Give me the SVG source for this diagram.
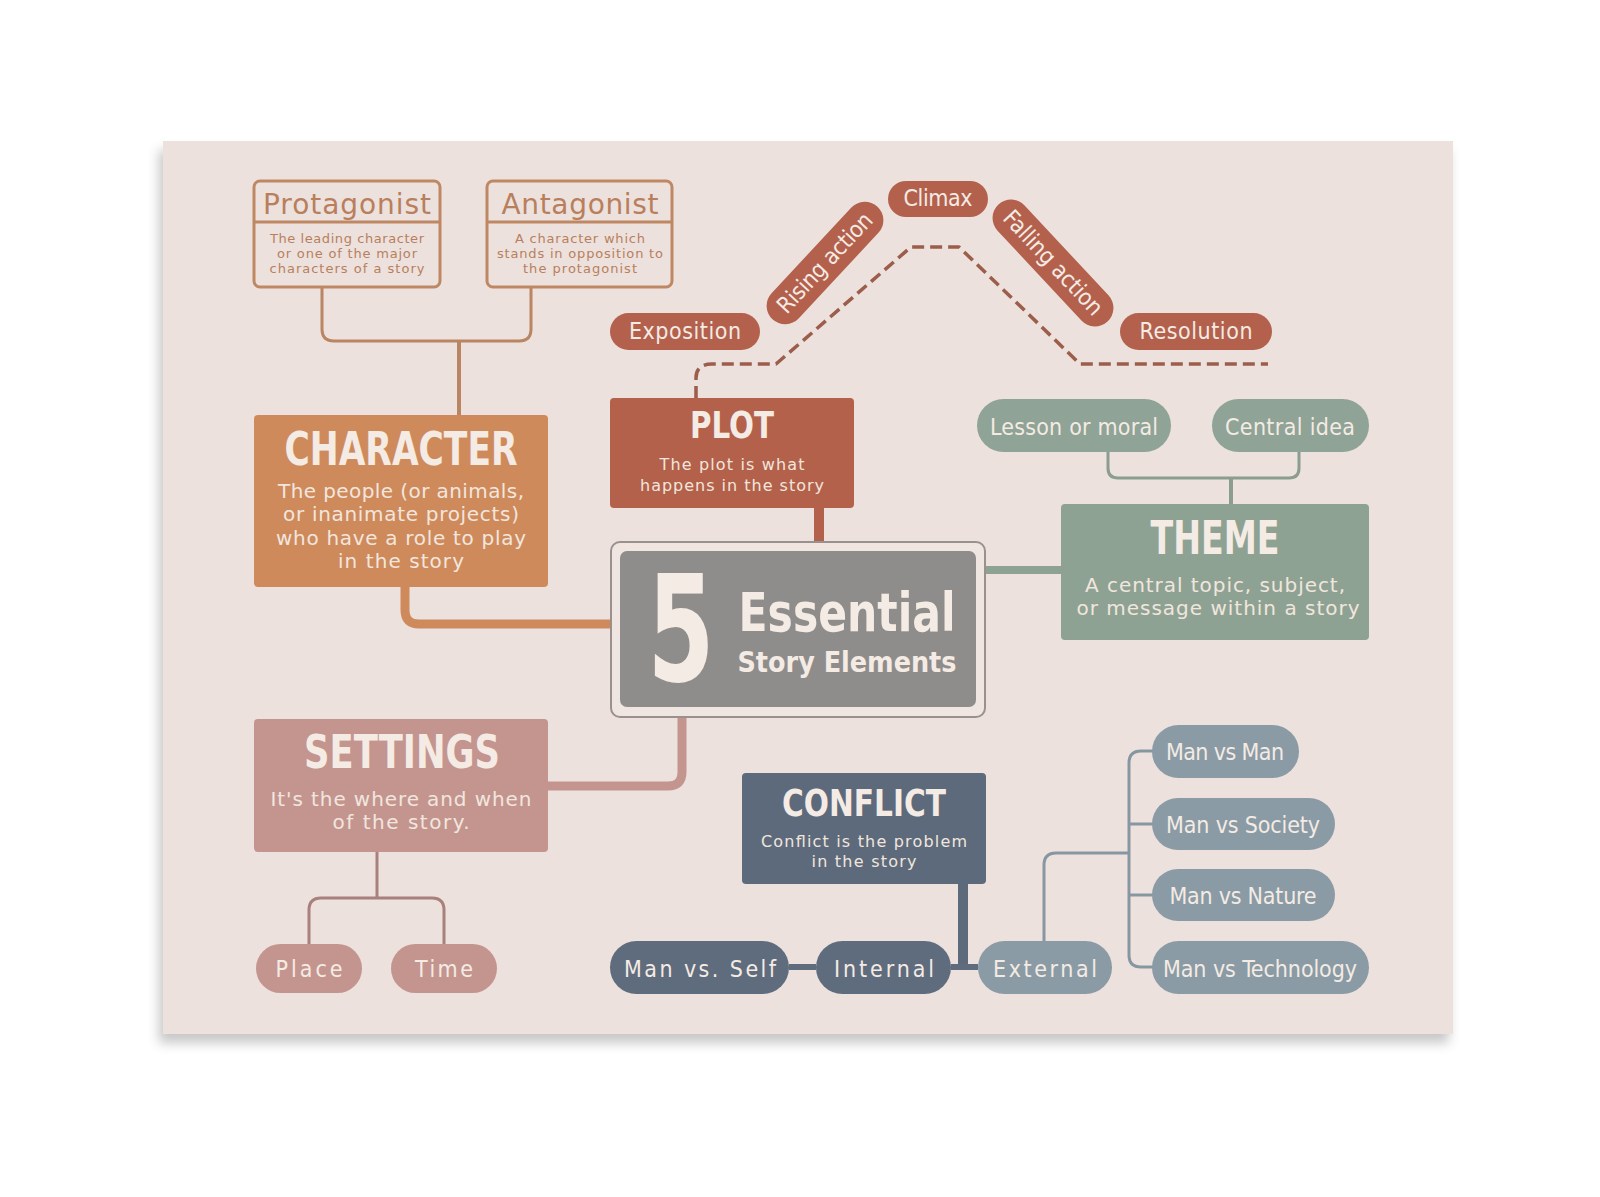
<svg xmlns="http://www.w3.org/2000/svg" width="1600" height="1197" viewBox="0 0 1600 1197">
<defs>
<filter id="shadow" x="-5%" y="-5%" width="110%" height="115%">
<feDropShadow dx="-4" dy="9" stdDeviation="6" flood-color="#000" flood-opacity="0.22"/>
</filter>
<style>
.title{font-family:"DejaVu Sans Condensed","DejaVu Sans",sans-serif;font-weight:bold;fill:#f4ebe4;text-anchor:middle}
.body{font-family:"DejaVu Sans",sans-serif;fill:#f1e6de;text-anchor:middle}
.pill{font-family:"DejaVu Sans Condensed","DejaVu Sans",sans-serif;fill:#f4ebe4;text-anchor:middle;font-size:23px}
.ob{fill:none;stroke:#bf8865;stroke-width:3}
.obt{font-family:"DejaVu Sans",sans-serif;fill:#b97f5c;text-anchor:middle}
.c{fill:none;stroke-linecap:butt;stroke-linejoin:round}
</style>
</defs>
<rect width="1600" height="1197" fill="#ffffff"/>
<rect id="poster" x="163" y="141" width="1290" height="893" fill="#ece1dd" filter="url(#shadow)"/>

<g id="connectors">
<path class="c" d="M322 287 V329 Q322 341 334 341 H519 Q531 341 531 329 V287" stroke="#b98563" stroke-width="3"/>
<path class="c" d="M459 341 V415" stroke="#b98563" stroke-width="4"/>
<path class="c" d="M405 587 V610 Q405 624 419 624 H612" stroke="#cf8a5c" stroke-width="9"/>
<path class="c" d="M819 508 V541" stroke="#b3614b" stroke-width="10"/>
<path class="c" d="M696 398 V378 Q696 364 712 364 H776 L911 247 H959 L1080 364 H1268" stroke="#9c5d4b" stroke-width="3.5" stroke-dasharray="12 6"/>
<path class="c" d="M1108 452 V468 Q1108 478 1118 478 H1289 Q1299 478 1299 468 V452" stroke="#8a9d90" stroke-width="3"/>
<path class="c" d="M1231 478 V504" stroke="#8a9d90" stroke-width="4"/>
<path class="c" d="M985 570 H1061" stroke="#8ea293" stroke-width="8"/>
<path class="c" d="M548 786 H668 Q682 786 682 772 V717" stroke="#c4958f" stroke-width="9"/>
<path class="c" d="M377 852 V898" stroke="#a8807c" stroke-width="3"/>
<path class="c" d="M309 944 V910 Q309 898 321 898 H432 Q444 898 444 910 V944" stroke="#a8807c" stroke-width="3"/>
<path class="c" d="M963 884 V967" stroke="#5d6a7b" stroke-width="10"/>
<path class="c" d="M789 967 H816" stroke="#5f6c7d" stroke-width="6"/>
<path class="c" d="M951 967 H978" stroke="#5f6c7d" stroke-width="6"/>
<path class="c" d="M1044 941 V865 Q1044 853 1056 853 H1129" stroke="#8797a1" stroke-width="3"/>
<path class="c" d="M1153 751 H1141 Q1129 751 1129 763 V955 Q1129 967 1141 967 H1153" stroke="#8797a1" stroke-width="3"/>
<path class="c" d="M1129 824 H1153 M1129 895 H1153" stroke="#8797a1" stroke-width="3"/>
</g>

<g id="protagonist">
<rect x="254" y="181" width="186" height="106" rx="6" fill="#efe5e1" class="ob"/>
<line x1="254" y1="222" x2="440" y2="222" stroke="#bf8865" stroke-width="3"/>
<text class="obt" x="347" y="214" font-size="28" textLength="168">Protagonist</text>
<text class="obt" x="347" y="243" font-size="13" textLength="154">The leading character</text>
<text class="obt" x="347" y="258" font-size="13" textLength="140">or one of the major</text>
<text class="obt" x="347" y="273" font-size="13" textLength="155">characters of a story</text>
</g>
<g id="antagonist">
<rect x="487" y="181" width="185" height="106" rx="6" fill="#efe5e1" class="ob"/>
<line x1="487" y1="222" x2="672" y2="222" stroke="#bf8865" stroke-width="3"/>
<text class="obt" x="580" y="214" font-size="28" textLength="157">Antagonist</text>
<text class="obt" x="580" y="243" font-size="13" textLength="130">A character which</text>
<text class="obt" x="580" y="258" font-size="13" textLength="166">stands in opposition to</text>
<text class="obt" x="580" y="273" font-size="13" textLength="114">the protagonist</text>
</g>

<g id="character">
<rect x="254" y="415" width="294" height="172" rx="4" fill="#cf8a5c"/>
<text class="title" x="401" y="465" font-size="46" textLength="233" lengthAdjust="spacingAndGlyphs">CHARACTER</text>
<text class="body" x="401" y="498" font-size="20" textLength="246">The people (or animals,</text>
<text class="body" x="401" y="521" font-size="20" textLength="236">or inanimate projects)</text>
<text class="body" x="401" y="545" font-size="20" textLength="250">who have a role to play</text>
<text class="body" x="401" y="568" font-size="20" textLength="126">in the story</text>
</g>

<g id="exposition">
<rect x="610" y="313" width="150" height="37" rx="18.5" fill="#b3614d"/>
<text class="pill" x="685" y="339" font-size="21" textLength="112">Exposition</text>
</g>
<g id="rising-action" transform="translate(825 263) rotate(-47)">
<rect x="-77" y="-18.5" width="154" height="37" rx="18.5" fill="#b3614d"/>
<text class="pill" x="0" y="7.5" font-size="21" textLength="128">Rising action</text>
</g>
<g id="climax">
<rect x="888" y="181" width="100" height="36" rx="18" fill="#b3614d"/>
<text class="pill" x="938" y="206" font-size="21" textLength="69">Climax</text>
</g>
<g id="falling-action" transform="translate(1053 263) rotate(47)">
<rect x="-80" y="-18.5" width="160" height="37" rx="18.5" fill="#b3614d"/>
<text class="pill" x="0" y="7.5" font-size="21" textLength="134">Falling action</text>
</g>
<g id="resolution">
<rect x="1120" y="313" width="152" height="37" rx="18.5" fill="#b3614d"/>
<text class="pill" x="1196" y="339" font-size="21" textLength="113">Resolution</text>
</g>

<g id="plot">
<rect x="610" y="398" width="244" height="110" rx="4" fill="#b3614b"/>
<text class="title" x="732" y="438" font-size="37" textLength="84" lengthAdjust="spacingAndGlyphs">PLOT</text>
<text class="body" x="732" y="470" font-size="16" textLength="145">The plot is what</text>
<text class="body" x="732" y="491" font-size="16" textLength="184">happens in the story</text>
</g>

<g id="lesson-or-moral">
<rect x="977" y="399" width="194" height="53" rx="26.5" fill="#8fa396"/>
<text class="pill" x="1074" y="435" font-size="25" textLength="168">Lesson or moral</text>
</g>
<g id="central-idea">
<rect x="1212" y="399" width="157" height="53" rx="26.5" fill="#8fa396"/>
<text class="pill" x="1290" y="435" font-size="25" textLength="130">Central idea</text>
</g>

<g id="theme">
<rect x="1061" y="504" width="308" height="136" rx="4" fill="#8ea293"/>
<text class="title" x="1215" y="554" font-size="46" textLength="129" lengthAdjust="spacingAndGlyphs">THEME</text>
<text class="body" x="1215" y="592" font-size="20" textLength="260">A central topic, subject,</text>
<text class="body" x="1218" y="615" font-size="20" textLength="283">or message within a story</text>
</g>

<g id="center">
<rect x="611" y="542" width="374" height="175" rx="9" fill="#efe6e2" stroke="#9a908d" stroke-width="2"/>
<rect x="620" y="551" width="356" height="156" rx="7" fill="#8f8d8b"/>
<text class="title" x="681" y="681" font-size="148" textLength="67" lengthAdjust="spacingAndGlyphs">5</text>
<text class="title" x="847" y="631" font-size="54" textLength="217" lengthAdjust="spacingAndGlyphs">Essential</text>
<text class="title" x="847" y="672" font-size="28" textLength="219" lengthAdjust="spacingAndGlyphs">Story Elements</text>
</g>

<g id="settings">
<rect x="254" y="719" width="294" height="133" rx="4" fill="#c4958f"/>
<text class="title" x="402" y="768" font-size="46" textLength="196" lengthAdjust="spacingAndGlyphs">SETTINGS</text>
<text class="body" x="401" y="806" font-size="20" textLength="261">It's the where and when</text>
<text class="body" x="401" y="829" font-size="20" textLength="137">of the story.</text>
</g>
<g id="place">
<rect x="256" y="944" width="106" height="49" rx="24.5" fill="#c4958f"/>
<text class="pill" x="309" y="977" font-size="24" textLength="67">Place</text>
</g>
<g id="time">
<rect x="391" y="944" width="106" height="49" rx="24.5" fill="#c4958f"/>
<text class="pill" x="444" y="977" font-size="24" textLength="58">Time</text>
</g>

<g id="conflict">
<rect x="742" y="773" width="244" height="111" rx="4" fill="#5d6a7b"/>
<text class="title" x="864" y="816" font-size="38" textLength="164" lengthAdjust="spacingAndGlyphs">CONFLICT</text>
<text class="body" x="864" y="847" font-size="16" textLength="206">Conflict is the problem</text>
<text class="body" x="864" y="867" font-size="16" textLength="105">in the story</text>
</g>
<g id="man-vs-self">
<rect x="610" y="941" width="179" height="53" rx="26.5" fill="#5f6c7d"/>
<text class="pill" x="700" y="977" font-size="25" textLength="152">Man vs. Self</text>
</g>
<g id="internal">
<rect x="816" y="941" width="135" height="53" rx="26.5" fill="#5f6c7d"/>
<text class="pill" x="884" y="977" font-size="25" textLength="100">Internal</text>
</g>
<g id="external">
<rect x="978" y="941" width="134" height="53" rx="26.5" fill="#8a9ba5"/>
<text class="pill" x="1045" y="977" font-size="25" textLength="104">External</text>
</g>
<g id="man-vs-man">
<rect x="1152" y="725" width="147" height="53" rx="26.5" fill="#8a9ba5"/>
<text class="pill" x="1225" y="760" font-size="25" textLength="118">Man vs Man</text>
</g>
<g id="man-vs-society">
<rect x="1152" y="798" width="183" height="52" rx="26" fill="#8a9ba5"/>
<text class="pill" x="1243" y="833" font-size="25" textLength="154">Man vs Society</text>
</g>
<g id="man-vs-nature">
<rect x="1152" y="869" width="183" height="52" rx="26" fill="#8a9ba5"/>
<text class="pill" x="1243" y="904" font-size="25" textLength="147">Man vs Nature</text>
</g>
<g id="man-vs-technology">
<rect x="1152" y="941" width="217" height="53" rx="26.5" fill="#8a9ba5"/>
<text class="pill" x="1260" y="977" font-size="25" textLength="194">Man vs Technology</text>
</g>
</svg>
